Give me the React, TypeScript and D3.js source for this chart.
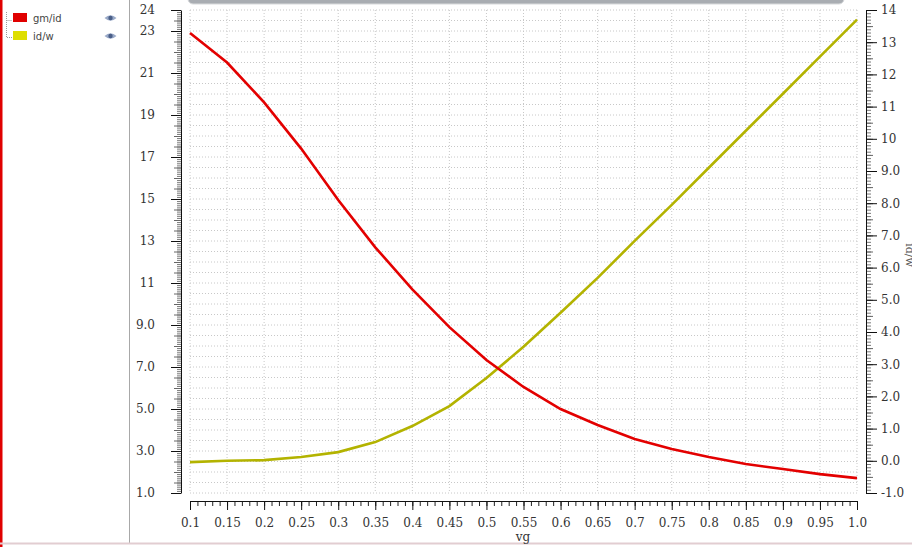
import React, { useEffect, useRef } from "react";
import * as d3 from "d3";

// sweep values
const vg = [0.1, 0.15, 0.2, 0.25, 0.3, 0.35, 0.4, 0.45, 0.5, 0.55, 0.6, 0.65, 0.7, 0.75, 0.8, 0.85, 0.9, 0.95, 1.0];
const gmId = [22.9, 21.5, 19.6, 17.4, 14.95, 12.7, 10.7, 8.9, 7.33, 6.05, 5.0, 4.24, 3.57, 3.1, 2.71, 2.38, 2.14, 1.9, 1.71];
const idW = [-0.04, 0.0, 0.02, 0.12, 0.27, 0.58, 1.08, 1.7, 2.57, 3.54, 4.6, 5.68, 6.83, 7.95, 9.1, 10.25, 11.4, 12.55, 13.7];

const leftTicks = [1, 3, 5, 7, 9, 11, 13, 15, 17, 19, 21, 23, 24];
const rightTicks = [-1, 0, 1, 2, 3, 4, 5, 6, 7, 8, 9, 10, 11, 12, 13, 14];
const xTicks = [0.1, 0.15, 0.2, 0.25, 0.3, 0.35, 0.4, 0.45, 0.5, 0.55, 0.6, 0.65, 0.7, 0.75, 0.8, 0.85, 0.9, 0.95, 1.0];

const legend = [
  { name: "gm/id", color: "#e00000" },
  { name: "id/w", color: "#dede00" },
];

const W = 912, H = 547;
const plot = { left: 190, right: 857, top: 10, bottom: 493 };
const font = "'DejaVu Serif', serif";

function App() {
  const ref = useRef<SVGSVGElement>(null);

  useEffect(() => {
    const svg = d3.select(ref.current);
    svg.selectAll(".chart").remove();
    const g = svg.append("g").attr("class", "chart");

    const x = d3.scaleLinear().domain([0.1, 1.0]).range([plot.left, plot.right]);
    const yL = d3.scaleLinear().domain([1, 24]).range([plot.bottom, plot.top]);
    const yR = d3.scaleLinear().domain([-1, 14]).range([plot.bottom, plot.top]);

    // grid
    const grid = g.append("g").attr("stroke", "#c8c8c8").attr("stroke-dasharray", "1,2");
    grid.selectAll("line.v").data(xTicks).join("line")
      .attr("x1", d => x(d)).attr("x2", d => x(d))
      .attr("y1", plot.top).attr("y2", plot.bottom);
    grid.selectAll("line.h").data(d3.range(1, 24.01, 0.5)).join("line")
      .attr("class", "h")
      .attr("x1", plot.left).attr("x2", plot.right)
      .attr("y1", d => yL(d)).attr("y2", d => yL(d));

    const fmt = (d: number) => (Math.abs(d) >= 10 ? String(d) : d.toFixed(1));

    const styleAxis = (sel: any) => {
      sel.selectAll("text").attr("font-family", font).attr("font-size", 12).attr("fill", "#333");
      sel.selectAll("line").attr("stroke", "#111");
      sel.select(".domain").attr("stroke", "#111");
    };

    // left axis
    const axL = 181;
    g.append("g").attr("transform", `translate(${axL},0)`)
      .call(d3.axisLeft(yL).tickValues(d3.range(1, 24.01, 0.1)).tickSize(4).tickFormat(() => "").tickSizeOuter(0))
      .call(s => s.selectAll("line").attr("stroke", "#777"))
      .call(s => s.select(".domain").remove());
    g.append("g").attr("transform", `translate(${axL},0)`)
      .call(d3.axisLeft(yL).tickValues(d3.range(1, 24.01, 0.5)).tickSize(7).tickFormat(() => "").tickSizeOuter(0))
      .call(s => s.selectAll("line").attr("stroke", "#666"))
      .call(s => s.select(".domain").remove());
    g.append("g").attr("transform", `translate(${axL},0)`)
      .call(d3.axisLeft(yL).tickValues(leftTicks).tickSize(10).tickPadding(16).tickSizeOuter(0).tickFormat(d => fmt(+d)))
      .call(styleAxis);

    // right axis
    const axR = 866;
    g.append("g").attr("transform", `translate(${axR},0)`)
      .call(d3.axisRight(yR).tickValues(d3.range(-1, 14.01, 0.1)).tickSize(5).tickFormat(() => "").tickSizeOuter(0))
      .call(s => s.selectAll("line").attr("stroke", "#777"))
      .call(s => s.select(".domain").remove());
    g.append("g").attr("transform", `translate(${axR},0)`)
      .call(d3.axisRight(yR).tickValues(d3.range(-1, 14.01, 0.5)).tickSize(7).tickFormat(() => "").tickSizeOuter(0))
      .call(s => s.selectAll("line").attr("stroke", "#666"))
      .call(s => s.select(".domain").remove());
    g.append("g").attr("transform", `translate(${axR},0)`)
      .call(d3.axisRight(yR).tickValues(rightTicks).tickSize(11).tickPadding(4).tickSizeOuter(0).tickFormat(d => fmt(+d)))
      .call(styleAxis);

    // bottom axis
    const axB = 501;
    g.append("g").attr("transform", `translate(0,${axB})`)
      .call(d3.axisBottom(x).tickValues(d3.range(0.1, 1.0001, 0.01)).tickSize(5).tickFormat(() => "").tickSizeOuter(0))
      .call(s => s.selectAll("line").attr("stroke", "#222"))
      .call(s => s.select(".domain").remove());
    g.append("g").attr("transform", `translate(0,${axB})`)
      .call(d3.axisBottom(x).tickValues(xTicks).tickSize(9).tickPadding(8).tickSizeOuter(0)
        .tickFormat(d => (+d === 1 ? "1.0" : String(+(+d).toFixed(2)))))
      .call(styleAxis);

    // curves
    const lineL = d3.line<number>().x((_, i) => x(vg[i])).y(d => yL(d));
    const lineR = d3.line<number>().x((_, i) => x(vg[i])).y(d => yR(d));
    g.append("path").datum(idW).attr("d", lineR).attr("fill", "none")
      .attr("stroke", "#b3b300").attr("stroke-width", 2.6);
    g.append("path").datum(gmId).attr("d", lineL).attr("fill", "none")
      .attr("stroke", "#e30000").attr("stroke-width", 2.6);
  }, []);

  return (
    <svg ref={ref} width={W} height={H}
      style={{ position: "absolute", left: 0, top: 0, display: "block", background: "#fff" }}>
      {/* side panel */}
      <rect x={0} y={0} width={2.5} height={H} fill="#e00000" />
      <line x1={129.5} x2={129.5} y1={0} y2={543} stroke="#a8a8a8" />
      <line x1={0} x2={W} y1={543.5} y2={543.5} stroke="#e2cdd1" strokeWidth={2} />
      <path d="M6.5,12 V37.5 H12 M6.5,20.5 H12" fill="none" stroke="#999" strokeDasharray="1,1" />
      {legend.map((l, i) => (
        <g key={l.name} transform={`translate(0,${i * 18})`}>
          <rect x={13} y={13} width={14} height={9} fill={l.color} />
          <text x={33} y={22} fontFamily="'DejaVu Sans', sans-serif" fontSize={10} fill="#444">{l.name}</text>
          <path d="M104.5,18 Q110.5,12.5 116.5,18 Q110.5,23.5 104.5,18 Z" fill="#9aaac8" />
          <circle cx={110.5} cy={18} r={2.2} fill="#4a5f88" />
        </g>
      ))}
      {/* top scroll bar */}
      <rect x={188} y={-8} width={656} height={12} rx={5} fill="#a9adb2" stroke="#d8dadc" />
      <text transform="translate(906,255) rotate(90)" textAnchor="middle" fontFamily={font} fontSize={11} fill="#555">id/w</text>
      <text x={523} y={541} textAnchor="middle" fontFamily={font} fontSize={12} fill="#333">vg</text>
    </svg>
  );
}

export default App;
